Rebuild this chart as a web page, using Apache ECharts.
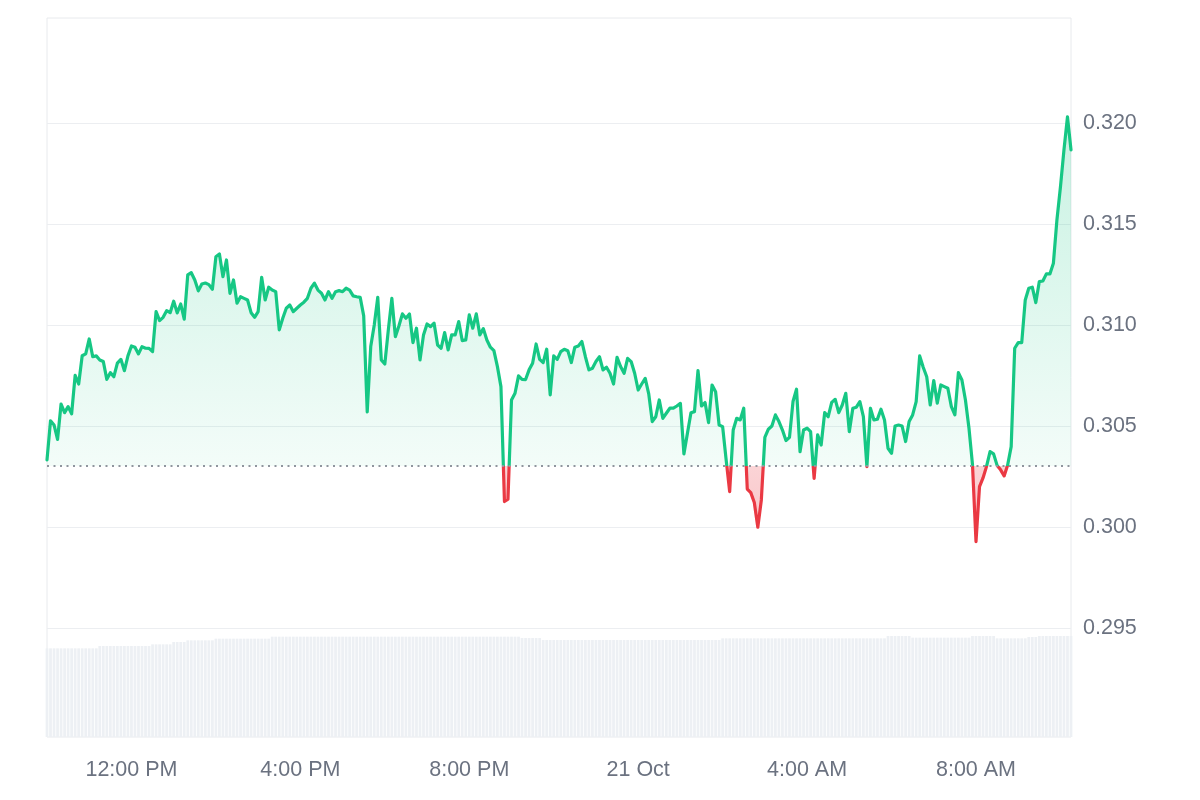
<!DOCTYPE html>
<html>
<head>
<meta charset="utf-8">
<title>24h price</title>
<script src="https://cdn.jsdelivr.net/npm/echarts@6/dist/echarts.min.js"></script>
<style>
  html, body { margin: 0; padding: 0; background: #fff; }
  #main { width: 1200px; height: 800px; }
</style>
</head>
<body>
<div id="main"></div>
<script>
// price, one point every 5 minutes from 20 Oct 10:00
var prices = [
  0.30332, 0.30526, 0.30505, 0.30434, 0.30609, 0.30566, 0.30596, 0.30560, 0.30751, 0.30708,
  0.30848, 0.30857, 0.30931, 0.30843, 0.30847, 0.30827, 0.30819, 0.30731, 0.30764, 0.30744,
  0.30811, 0.30830, 0.30774, 0.30847, 0.30896, 0.30890, 0.30857, 0.30893, 0.30885, 0.30884,
  0.30868, 0.31066, 0.31022, 0.31038, 0.31071, 0.31061, 0.31118, 0.31060, 0.31104, 0.31029,
  0.31248, 0.31259, 0.31223, 0.31169, 0.31203, 0.31208, 0.31200, 0.31177, 0.31338, 0.31352,
  0.31239, 0.31322, 0.31157, 0.31223, 0.31108, 0.31140, 0.31132, 0.31124, 0.31061, 0.31038,
  0.31066, 0.31236, 0.31124, 0.31187, 0.31173, 0.31165, 0.30976, 0.31033, 0.31083, 0.31099,
  0.31066, 0.31083, 0.31099, 0.31113, 0.31132, 0.31182, 0.31207, 0.31173, 0.31157, 0.31124,
  0.31165, 0.31132, 0.31165, 0.31170, 0.31165, 0.31182, 0.31173, 0.31144, 0.31140, 0.31137,
  0.31045, 0.30570, 0.30893, 0.31000, 0.31137, 0.30827, 0.30807, 0.30976, 0.31132, 0.30942,
  0.30995, 0.31055, 0.31033, 0.31055, 0.30913, 0.30984, 0.30827, 0.30951, 0.31005, 0.30992,
  0.31009, 0.30901, 0.30885, 0.30962, 0.30877, 0.30951, 0.30951, 0.31017, 0.30923, 0.30926,
  0.31050, 0.30984, 0.31055, 0.30951, 0.30982, 0.30926, 0.30890, 0.30873, 0.30794, 0.30695,
  0.30126, 0.30138, 0.30629, 0.30662, 0.30748, 0.30731, 0.30730, 0.30778, 0.30811, 0.30906,
  0.30830, 0.30814, 0.30880, 0.30654, 0.30847, 0.30830, 0.30868, 0.30880, 0.30873, 0.30814,
  0.30890, 0.30896, 0.30918, 0.30843, 0.30778, 0.30786, 0.30819, 0.30843, 0.30778, 0.30791,
  0.30761, 0.30708, 0.30840, 0.30794, 0.30761, 0.30835, 0.30819, 0.30761, 0.30678, 0.30708,
  0.30736, 0.30659, 0.30522, 0.30546, 0.30629, 0.30538, 0.30563, 0.30588, 0.30588, 0.30599,
  0.30612, 0.30362, 0.30464, 0.30566, 0.30571, 0.30774, 0.30599, 0.30616, 0.30517, 0.30703,
  0.30670, 0.30505, 0.30497, 0.30332, 0.30175, 0.30480, 0.30538, 0.30530, 0.30588, 0.30188,
  0.30170, 0.30121, 0.29999, 0.30134, 0.30444, 0.30484, 0.30500, 0.30555, 0.30522, 0.30480,
  0.30428, 0.30444, 0.30621, 0.30682, 0.30373, 0.30480, 0.30489, 0.30472, 0.30241, 0.30456,
  0.30406, 0.30566, 0.30546, 0.30617, 0.30632, 0.30566, 0.30604, 0.30662, 0.30472, 0.30588,
  0.30593, 0.30621, 0.30546, 0.30299, 0.30588, 0.30530, 0.30534, 0.30583, 0.30530, 0.30390,
  0.30365, 0.30500, 0.30505, 0.30500, 0.30423, 0.30522, 0.30555, 0.30621, 0.30847, 0.30791,
  0.30744, 0.30604, 0.30725, 0.30613, 0.30703, 0.30695, 0.30687, 0.30596, 0.30555, 0.30764,
  0.30728, 0.30629, 0.30490, 0.30310, 0.29928, 0.30200, 0.30243, 0.30300, 0.30373, 0.30362,
  0.30305, 0.30283, 0.30253, 0.30307, 0.30398, 0.30885, 0.30913, 0.30913, 0.31124, 0.31182,
  0.31187, 0.31111, 0.31215, 0.31218, 0.31253, 0.31253, 0.31306, 0.31520, 0.31683, 0.31867,
  0.32030, 0.31867
];

// volume (millions), same 5 minute slots
var volumes = [
  53.2, 53.2, 53.2, 53.2, 53.2, 53.2, 53.2, 53.2, 53.2, 53.2, 53.2, 53.2, 53.2, 53.2, 53.2,
  54.6, 54.6, 54.6, 54.6, 54.6, 54.6, 54.6, 54.6, 54.6, 54.6, 54.6, 54.6, 54.6, 54.6, 54.6,
  55.6, 55.6, 55.6, 55.6, 55.6, 55.6, 57.0, 57.0, 57.0, 57.0,
  58.0, 58.0, 58.0, 58.0, 58.0, 58.0, 58.0, 58.0,
  59.0, 59.0, 59.0, 59.0, 59.0, 59.0, 59.0, 59.0, 59.0, 59.0, 59.0, 59.0, 59.0, 59.0, 59.0, 59.0,
  60.2, 60.2, 60.2, 60.2, 60.2, 60.2, 60.2, 60.2, 60.2, 60.2,
  60.2, 60.2, 60.2, 60.2, 60.2, 60.2, 60.2, 60.2, 60.2, 60.2,
  60.2, 60.2, 60.2, 60.2, 60.2, 60.2, 60.2, 60.2, 60.2, 60.2,
  60.2, 60.2, 60.2, 60.2, 60.2, 60.2, 60.2, 60.2, 60.2, 60.2,
  60.2, 60.2, 60.2, 60.2, 60.2, 60.2, 60.2, 60.2, 60.2, 60.2,
  60.2, 60.2, 60.2, 60.2, 60.2, 60.2, 60.2, 60.2, 60.2, 60.2,
  60.2, 60.2, 60.2, 60.2, 60.2, 60.2, 60.2, 60.2, 60.2, 60.2,
  60.2,
  59.4, 59.4, 59.4, 59.4, 59.4, 59.4,
  58.2, 58.2, 58.2, 58.2, 58.2, 58.2, 58.2, 58.2, 58.2, 58.2,
  58.2, 58.2, 58.2, 58.2, 58.2, 58.2, 58.2, 58.2, 58.2, 58.2,
  58.2, 58.2, 58.2, 58.2, 58.2, 58.2, 58.2, 58.2, 58.2, 58.2,
  58.2, 58.2, 58.2, 58.2, 58.2, 58.2, 58.2, 58.2, 58.2, 58.2,
  58.2, 58.2, 58.2, 58.2, 58.2, 58.2, 58.2, 58.2, 58.2, 58.2,
  58.2,
  59.2, 59.2, 59.2, 59.2, 59.2, 59.2, 59.2, 59.2, 59.2, 59.2,
  59.2, 59.2, 59.2, 59.2, 59.2, 59.2, 59.2, 59.2, 59.2, 59.2,
  59.2, 59.2, 59.2, 59.2, 59.2, 59.2, 59.2, 59.2, 59.2, 59.2,
  59.2, 59.2, 59.2, 59.2, 59.2, 59.2, 59.2, 59.2, 59.2, 59.2,
  59.2, 59.2, 59.2, 59.2, 59.2, 59.2, 59.2,
  60.6, 60.6, 60.6, 60.6, 60.6, 60.6, 60.6,
  59.6, 59.6, 59.6, 59.6, 59.6, 59.6, 59.6, 59.6, 59.6, 59.6,
  59.6, 59.6, 59.6, 59.6, 59.6, 59.6, 59.6,
  60.6, 60.6, 60.6, 60.6, 60.6, 60.6, 60.6,
  59.2, 59.2, 59.2, 59.2, 59.2, 59.2, 59.2, 59.2, 59.2,
  60.0, 60.0, 60.0,
  60.6, 60.6, 60.6, 60.6, 60.6, 60.6, 60.6, 60.6, 60.6, 60.6
];

var basePrice = 0.30302; // price 24h ago (dotted line)
var startTime = new Date(2024, 9, 20, 10, 0).getTime();
var stepMs = 5 * 60 * 1000;
var months = ["Jan", "Feb", "Mar", "Apr", "May", "Jun", "Jul", "Aug", "Sep", "Oct", "Nov", "Dec"];

var times = prices.map(function (p, i) {
  return String(startTime + i * stepMs);
});

var GREEN = "#16c784";
var RED = "#ea3943";

var labelStyle = {
  color: "#6b7280",
  fontSize: 21.5,
  fontFamily: "Liberation Sans, Arial, sans-serif",
};

function fmtTime(v) {
  var d = new Date(Number(v));
  var h = d.getHours();
  var m = d.getMinutes();
  if (h === 0 && m === 0) return d.getDate() + " " + months[d.getMonth()];
  return (h % 12 || 12) + ":" + String(m).padStart(2, "0") + " " + (h < 12 ? "AM" : "PM");
}

var myChart = echarts.init(document.getElementById("main"));

var option = {
  animation: false,
  backgroundColor: "#fff",
  grid: [
    // price pane (0.290 .. 0.325)
    { left: 47, right: 129, top: 22, bottom: 71, outerBoundsMode: "none" },
    // frame + volume
    {
      left: 47, right: 129, top: 18, bottom: 63, outerBoundsMode: "none",
      show: true, borderColor: "#e8eaed", borderWidth: 1, backgroundColor: "transparent",
    },
  ],
  xAxis: [
    { type: "category", gridIndex: 0, data: times, boundaryGap: false, show: false },
    {
      type: "category",
      gridIndex: 1,
      data: times,
      boundaryGap: false,
      axisLine: { show: false },
      axisTick: { show: false },
      splitLine: { show: false },
      axisLabel: Object.assign(
        {
          margin: 22,
          interval: function (i) {
            return i % 48 === 24;
          },
          formatter: fmtTime,
        },
        labelStyle
      ),
    },
  ],
  yAxis: [
    {
      type: "value",
      gridIndex: 0,
      position: "right",
      min: 0.29,
      max: 0.325,
      interval: 0.005,
      axisLine: { show: false },
      axisTick: { show: false },
      splitLine: {
        show: true,
        showMinLine: false,
        showMaxLine: false,
        lineStyle: { color: "#eceef1", width: 1 },
      },
      axisLabel: Object.assign(
        {
          margin: 12,
          padding: [4, 0, 0, 0],
          showMinLabel: false,
          showMaxLabel: false,
          formatter: function (v) {
            return v.toFixed(3);
          },
        },
        labelStyle
      ),
    },
    { type: "value", gridIndex: 1, min: 0, max: 431.4, show: false, splitLine: { show: false } },
  ],
  series: [
    {
      name: "Price",
      type: "line",
      xAxisIndex: 0,
      yAxisIndex: 0,
      data: prices,
      z: 3,
      showSymbol: false,
      lineStyle: { width: 3.2, join: "round", cap: "round", color: GREEN },
      areaStyle: { origin: basePrice, opacity: 1, color: "rgba(22,199,132,0.12)" },
      markLine: {
        silent: true,
        symbol: "none",
        precision: 5,
        label: { show: false },
        lineStyle: { color: "#8f959e", width: 2, type: [2, 4.5] },
        data: [{ yAxis: basePrice }],
      },
    },
    {
      name: "Volume",
      type: "bar",
      xAxisIndex: 1,
      yAxisIndex: 1,
      data: volumes,
      z: 1,
      silent: true,
      barCategoryGap: "22%",
      itemStyle: { color: "#edf0f4" },
    },
  ],
};

myChart.setOption(option);

// split colours at the base line: green above, red below
var yTop = myChart.convertToPixel({ yAxisIndex: 0 }, 0.3205);
var yBase = myChart.convertToPixel({ yAxisIndex: 0 }, basePrice);
var yLow = myChart.convertToPixel({ yAxisIndex: 0 }, 0.2992);
var cut = (yBase - yTop) / (yLow - yTop);

function split(stops) {
  return { type: "linear", global: true, x: 0, y: yTop, x2: 0, y2: yLow, colorStops: stops };
}

myChart.setOption({
  series: [
    {
      name: "Price",
      lineStyle: {
        color: split([
          { offset: 0, color: GREEN },
          { offset: cut, color: GREEN },
          { offset: cut, color: RED },
          { offset: 1, color: RED },
        ]),
      },
      areaStyle: {
        origin: basePrice,
        opacity: 1,
        color: split([
          { offset: 0, color: "rgba(22,199,132,0.24)" },
          { offset: cut, color: "rgba(22,199,132,0.05)" },
          { offset: cut, color: "rgba(234,57,67,0.22)" },
          { offset: 1, color: "rgba(234,57,67,0.30)" },
        ]),
      },
    },
  ],
});
</script>
</body>
</html>
